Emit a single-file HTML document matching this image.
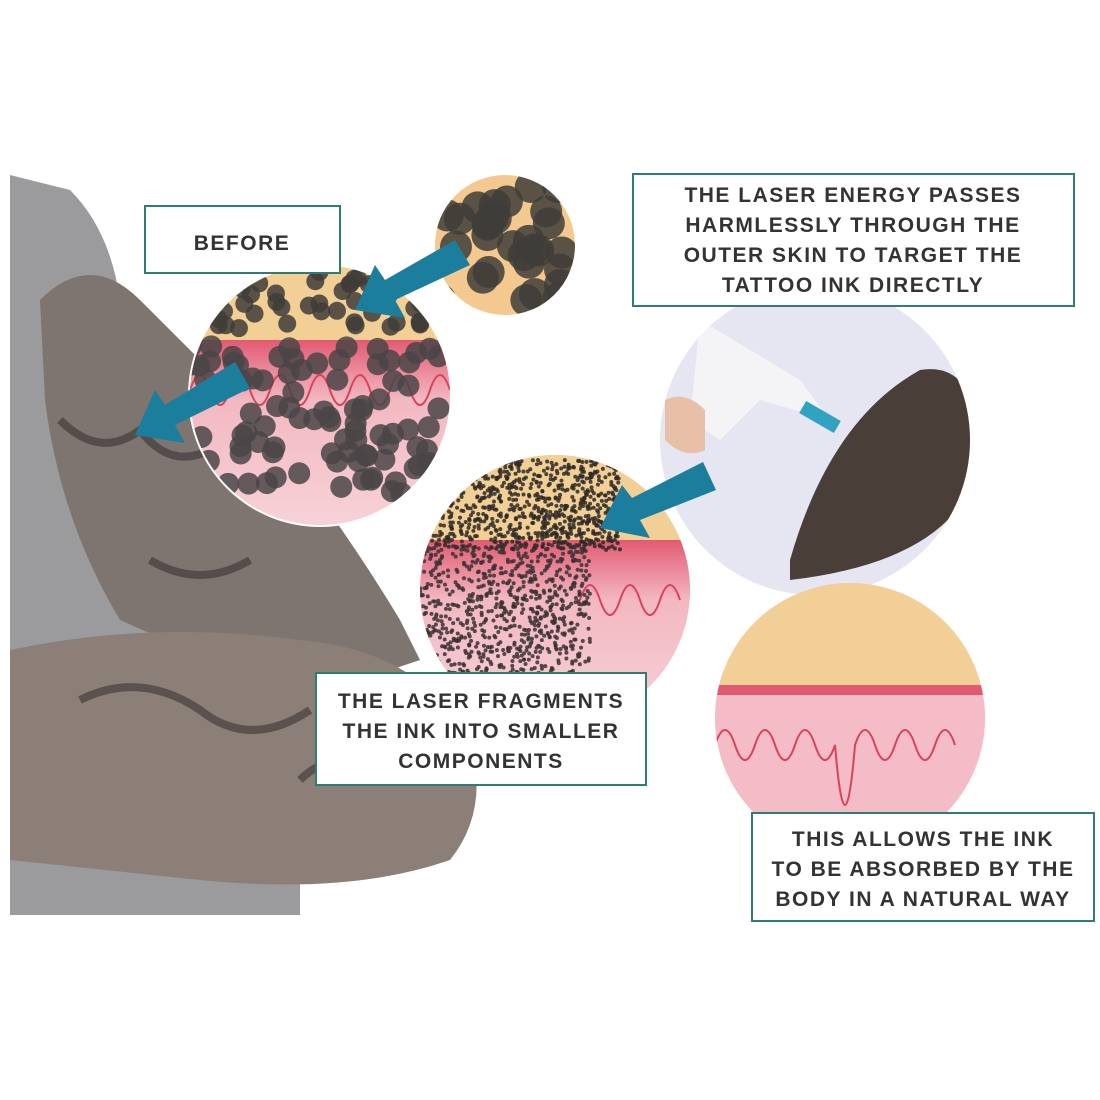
<!DOCTYPE html>
<html><head><meta charset="utf-8"><style>
html,body{margin:0;padding:0;background:#fff;}
svg{display:block}
text{font-family:"Liberation Sans",sans-serif;font-weight:bold;fill:#333;letter-spacing:1.5px}
</style></head><body>
<svg id="s" width="1100" height="1100" viewBox="0 0 1100 1100" xmlns="http://www.w3.org/2000/svg">
<defs>
<clipPath id="c1"><circle cx="320" cy="395" r="130"/></clipPath>
<clipPath id="c2"><circle cx="505" cy="245" r="70"/></clipPath>
<clipPath id="c3"><circle cx="555" cy="590" r="135"/></clipPath>
<clipPath id="c4"><circle cx="850" cy="718" r="135"/></clipPath>
<clipPath id="c5"><circle cx="815" cy="440" r="155"/></clipPath>
<linearGradient id="pk" x1="0" y1="0" x2="0" y2="1"><stop offset="0" stop-color="#e25a72"/><stop offset="0.3" stop-color="#f3b8c2"/><stop offset="1" stop-color="#f7d5da"/></linearGradient>
</defs>
<!-- shirt -->
<path d="M10,175 L70,190 Q110,230 120,300 L300,640 L300,915 L10,915 Z" fill="#9b9b9d"/>
<!-- upper arm -->
<path d="M40,300 Q90,250 140,300 L260,420 Q340,520 400,620 L420,660 L300,700 L120,620 Q60,520 45,400 Z" fill="#7e7470"/>
<!-- forearm -->
<path d="M10,650 Q150,620 300,640 Q420,650 470,740 Q490,810 450,860 Q350,895 200,880 L10,860 Z" fill="#8c7f78"/>
<path d="M60,420 q40,40 80,10 q30,40 70,20 M80,700 q60,-30 120,10 q50,40 110,0 M150,560 q50,30 100,0 M300,780 q40,-40 100,0" stroke="#3a3433" stroke-width="8" fill="none" opacity="0.6"/>
<!-- small circle -->
<circle cx="505" cy="245" r="70" fill="#f3c98f"/>
<g clip-path="url(#c2)" id="g2"></g>
<!-- before circle -->
<circle cx="320" cy="395" r="132" fill="#fff"/>
<g clip-path="url(#c1)">
<rect x="180" y="260" width="280" height="80" fill="#f1cf95"/>
<rect x="180" y="340" width="280" height="200" fill="url(#pk)"/>
<path d="M190,390 q10,-30 20,0 q10,30 20,0 q10,-30 20,0 q10,30 20,0 q10,-30 20,0 q10,30 20,0 q10,-30 20,0 q10,30 20,0 q10,-30 20,0 q10,30 20,0 q10,-30 20,0 q10,30 20,0 q10,-30 20,0" stroke="#d9435c" stroke-width="2" fill="none"/>
<g id="g1"></g>
</g>
<!-- laser circle -->
<circle cx="815" cy="440" r="155" fill="#e5e6f2"/>
<g clip-path="url(#c5)">
<path d="M790,560 Q830,420 920,370 Q980,360 980,460 Q960,560 790,580 Z" fill="#4a3e38"/>
<path d="M700,320 L800,380 L830,420 L760,400 L720,440 L690,420 Z" fill="#f4f4f6"/>
<rect x="800" y="410" width="40" height="14" fill="#2fa3bf" transform="rotate(30 820 417)"/>
<path d="M665,400 q20,-10 40,10 l0,40 q-20,10 -40,-10 Z" fill="#e8c0a8"/>
</g>
<!-- fragment circle -->
<circle cx="555" cy="590" r="135" fill="#f7cfd6"/>
<g clip-path="url(#c3)">
<rect x="410" y="450" width="300" height="90" fill="#f1cf95"/>
<rect x="410" y="540" width="300" height="200" fill="url(#pk)"/>
<path d="M580,600 q10,-30 20,0 q10,30 20,0 q10,-30 20,0 q10,30 20,0 q10,-30 20,0" stroke="#d9435c" stroke-width="2" fill="none"/>
<g id="g3"></g>
</g>
<!-- final circle -->
<circle cx="850" cy="718" r="135" fill="#f7d5da"/>
<g clip-path="url(#c4)">
<rect x="700" y="580" width="300" height="105" fill="#f3cf98"/>
<rect x="700" y="685" width="300" height="10" fill="#e25a72"/>
<rect x="700" y="695" width="300" height="170" fill="#f4bcc6"/>
<path d="M715,745 q10,-30 20,0 q10,30 20,0 q10,-30 20,0 q10,30 20,0 q10,-30 20,0 q10,30 20,0 q5,60 10,60 q5,0 10,-60 q10,-30 20,0 q10,30 20,0 q10,-30 20,0 q10,30 20,0 q10,-30 20,0" stroke="#d9435c" stroke-width="2" fill="none"/>
</g>
<!-- arrows -->
<g fill="#1b7e9c">
<polygon points="455,240 470,265 395,300 405,318 355,310 375,265 385,280"/>
<polygon points="235,362 250,388 175,425 185,443 135,435 155,390 165,405"/>
<polygon points="703,462 716,490 640,520 650,538 600,528 622,485 632,498"/>
</g>
<!-- boxes -->
<g fill="#fff" stroke="#2f7c72" stroke-width="2">
<rect x="145" y="206" width="195" height="67"/>
<rect x="633" y="174" width="441" height="132"/>
<rect x="316" y="673" width="330" height="112"/>
<rect x="752" y="813" width="342" height="108"/>
</g>
<g font-size="21" text-anchor="middle">
<text x="242" y="250">BEFORE</text>
<text x="853" y="202">THE LASER ENERGY PASSES</text>
<text x="853" y="232">HARMLESSLY THROUGH THE</text>
<text x="853" y="262">OUTER SKIN TO TARGET THE</text>
<text x="853" y="292">TATTOO INK DIRECTLY</text>
<text x="481" y="708">THE LASER FRAGMENTS</text>
<text x="481" y="738">THE INK INTO SMALLER</text>
<text x="481" y="768">COMPONENTS</text>
<text x="923" y="846">THIS ALLOWS THE INK</text>
<text x="923" y="876">TO BE ABSORBED BY THE</text>
<text x="923" y="906">BODY IN A NATURAL WAY</text>
</g>
</svg>
<script>
var ns="http://www.w3.org/2000/svg",seed=7;function r(){seed=(seed*16807)%2147483647;return seed/2147483647;}
function dots(id,n,x0,y0,w,h,rad,col){var g=document.getElementById(id);for(var i=0;i<n;i++){var c=document.createElementNS(ns,"circle");c.setAttribute("cx",x0+r()*w);c.setAttribute("cy",y0+r()*h);c.setAttribute("r",rad);c.setAttribute("fill",col);c.setAttribute("opacity",0.85);g.appendChild(c);}}
dots("g2",30,440,180,130,130,16,"#3f3d39");
dots("g1",60,190,270,260,60,9,"#403c38");
dots("g1",90,190,345,250,150,11,"#4a4546");
dots("g3",900,420,460,200,90,2,"#2f2a28");
dots("g3",900,420,545,170,150,2,"#3a3234");
</script>
</body></html>
